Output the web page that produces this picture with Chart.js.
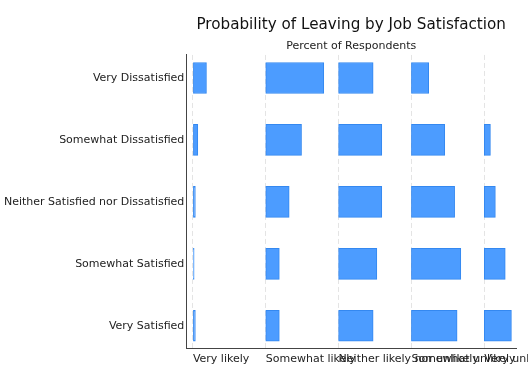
<!DOCTYPE html>
<html>
<head>
<meta charset="utf-8">
<script src="https://cdn.jsdelivr.net/npm/chart.js@4/dist/chart.umd.min.js"></script>
<style>
  html, body { margin: 0; padding: 0; background: #fff; }
  #wrap { width: 528px; height: 384px; }
</style>
</head>
<body>
<div id="wrap"><canvas id="mycanvas"></canvas></div>
<script>
// satisfaction groups (rows) and likelihood columns
var satisfaction = ["Very Dissatisfied", "Somewhat Dissatisfied", "Neither Satisfied nor Dissatisfied", "Somewhat Satisfied", "Very Satisfied"];
var likelihood = ["Very likely", "Somewhat likely", "Neither likely nor unlikely", "Somewhat unlikely", "Very unlikely"];

// percent of respondents, one array per likelihood column
var veryLikely = [11, 4, 2, 1, 2];
var somewhatLikely = [47, 29, 19, 11, 11];
var neitherLikely = [28, 35, 35, 31, 28];
var somewhatUnlikely = [14, 27, 35, 40, 37];
var veryUnlikely = [0, 5, 9, 17, 22];

var columnSpan = 59; // percent units per column panel
var series = [veryLikely, somewhatLikely, neitherLikely, somewhatUnlikely, veryUnlikely];

var datasets = [];
for (var k in series) {
	var base = k * columnSpan;
	var pts = [];
	for (var i in series[k]) {
		pts.push({ y: Number(i), x: [base, base + series[k][i]] });
	}
	datasets.push({
		label: likelihood[k],
		data: pts,
		grouped: false,
		barThickness: 31,
		backgroundColor: "rgba(76, 156, 255, 1)",
		borderColor: "rgba(52, 136, 240, 1)",
		borderWidth: 1,
		borderSkipped: false
	});
}

var ctx = document.getElementById("mycanvas");
var chart = new Chart(ctx, {
	type: 'bar',
	data: { datasets: datasets },
	options: {
		indexAxis: 'y',
		responsive: true,
		maintainAspectRatio: false,
		animation: false,
		layout: { autoPadding: false, padding: { left: 2, right: 12, top: 7, bottom: 14 } },
		plugins: {
			legend: { display: false },
			tooltip: { enabled: false },
			title: {
				display: true,
				fullSize: false,
				text: "Probability of Leaving by Job Satisfaction",
				color: "#111",
				font: { family: "DejaVu Sans", size: 15.2, weight: 'normal' },
				padding: { top: 8.5, bottom: 4 }
			},
			subtitle: {
				display: true,
				fullSize: false,
				text: "Percent of Respondents",
				color: "#222",
				font: { family: "DejaVu Sans", size: 11 },
				padding: { top: 2, bottom: 2 }
			}
		},
		scales: {
			x: {
				type: 'linear',
				min: -5.3,
				max: 261.7,
				afterBuildTicks: function(axis) {
					axis.ticks = likelihood.map(function(l, k) { return { value: k * columnSpan }; });
				},
				afterFit: function(axis) {
					// let the last label run off the edge instead of shrinking the plot
					axis.paddingLeft = 0;
					axis.paddingRight = 0;
				},
				ticks: {
					align: 'start',
					autoSkip: false,
					maxRotation: 0,
					color: "#222",
					font: { family: "DejaVu Sans", size: 11 },
					padding: 4,
					callback: function(v) { return likelihood[Math.round(v / columnSpan)]; }
				},
				grid: {
					color: "#e4e4e4",
					drawTicks: false,
					tickLength: 0
				},
				border: { display: true, color: "#444", dash: [5, 3] }
			},
			y: {
				type: 'linear',
				reverse: true,
				offset: false,
				min: -0.3725,
				max: 4.3725,
				afterBuildTicks: function(axis) {
					axis.ticks = satisfaction.map(function(s, i) { return { value: i }; });
				},
				ticks: {
					autoSkip: false,
					color: "#222",
					font: { family: "DejaVu Sans", size: 11 },
					padding: 2,
					callback: function(v) { return satisfaction[Math.round(v)]; }
				},
				grid: { display: false, drawTicks: false, tickLength: 0 },
				border: { display: true, color: "#444" }
			}
		}
	}
});
</script>
</body>
</html>
